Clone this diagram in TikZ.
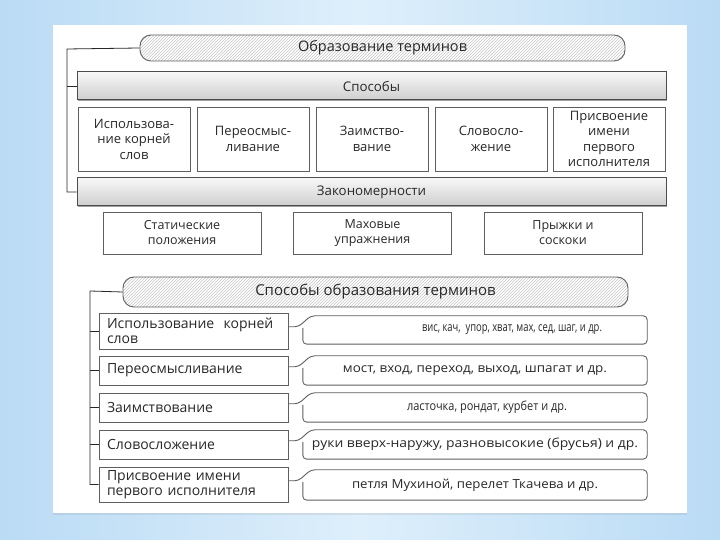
\documentclass[tikz,border=0pt]{standalone}
\usepackage{fontspec}
\usepackage{graphicx}
\setmainfont{Open Sans}
\usetikzlibrary{patterns,shadows,calc}

\definecolor{skyblue}{RGB}{186,219,245}
\definecolor{skylight}{RGB}{222,239,251}
\definecolor{inkgray}{RGB}{40,40,40}
\definecolor{framegray}{RGB}{95,95,95}

% one sample line, stretched to a given width at its own height
\newcommand{\fitline}[2]{\resizebox{#1}{\height}{#2}}

\tikzset{
  headbox/.style={draw=framegray, line width=0.9pt, rounded corners=11pt,
    pattern=north east lines, pattern color=gray!45, text=inkgray, inner sep=0pt},
  barbox/.style={draw=framegray!80!black, line width=1pt, top color=gray!6, bottom color=gray!38,
    minimum width=589pt, minimum height=28pt, inner sep=0pt, text=inkgray,
    font=\fontsize{13.3}{15}\selectfont,
    drop shadow={shadow xshift=1.3pt, shadow yshift=-1.3pt, opacity=.75}},
  waybox/.style={draw=framegray, line width=0.9pt, fill=white, minimum width=112pt,
    minimum height=64pt, inner sep=0pt, align=center, text=inkgray,
    font=\fontsize{13}{15.5}\selectfont,
    drop shadow={shadow xshift=0.8pt, shadow yshift=-0.8pt, opacity=.25}},
  lawbox/.style={waybox, minimum width=158pt, minimum height=42pt,
    font=\fontsize{12.5}{15}\selectfont},
  namebox/.style={draw=framegray, line width=0.9pt, fill=white, minimum width=189pt,
    text width=173pt, inner xsep=8pt, inner ysep=0pt, align=left, text=inkgray,
    font=\fontsize{14}{15.5}\selectfont},
  samplebox/.style={minimum width=344pt, inner sep=0pt, text=inkgray,
    font=\fontsize{12.5}{14}\selectfont},
  callline/.style={draw=framegray, line width=0.9pt, rounded corners=4pt},
  bracket/.style={draw=inkgray, line width=0.8pt},
}

\begin{document}
\begin{tikzpicture}[x=1pt, y=1pt]
  \useasboundingbox (0,0) rectangle (720,540);
  % background of the slide
  \fill[left color=skyblue, right color=skyblue, middle color=skylight] (0,0) rectangle (720,540);
  \fill[white, drop shadow={shadow xshift=0pt, shadow yshift=-2pt, opacity=.15}] (53,27) rectangle (687,515);

  % upper scheme
  \node[headbox, minimum width=485pt, minimum height=26pt, font=\fontsize{14.5}{16}\selectfont] (terms) at (382.5,492) {Образование терминов};
  \node[barbox] (ways) at (371.5,454) {Способы};
  \node[waybox] (w1) at (134,401) {Использова-\\ние корней\\слов};
  \node[waybox] (w2) at (253,401) {Переосмыс-\\ливание};
  \node[waybox] (w3) at (372,401) {Заимство-\\вание};
  \node[waybox] (w4) at (491,401) {Словосло-\\жение};
  \node[waybox] (w5) at (609,401) {Присвоение\\имени\\первого\\исполнителя};
  \node[barbox] (laws) at (371.5,348) {Закономерности};
  \node[lawbox] (s1) at (182,307) {Статические\\положения};
  \node[lawbox] (s2) at (372.5,307) {Маховые\\упражнения};
  \node[lawbox] (s3) at (563,307) {Прыжки и\\соскоки};

  \coordinate (top) at (67,491);
  \draw[bracket] (terms.west) -- (top) |- (laws.west);
  \draw[bracket] (top |- ways.west) -- (ways.west);

  % lower scheme
  \node[headbox, minimum width=505pt, minimum height=30pt, font=\fontsize{15}{17}\selectfont] (sterms) at (375.5,248) {Способы образования терминов};
  \node[namebox, minimum height=36pt] (l1) at (193.5,209) {Использование~~корней\\слов};
  \node[namebox, minimum height=29pt] (l2) at (193.5,169.5) {Переосмысливание};
  \node[namebox, minimum height=29pt] (l3) at (193.5,132.5) {Заимствование};
  \node[namebox, minimum height=29pt] (l4) at (193.5,95.5) {Словосложение};
  \node[namebox, minimum height=35pt] (l5) at (193.5,55.5) {Присвоение имени\\первого исполнителя};

  \node[samplebox, minimum height=28pt] (c1) at (475,210) {\hspace*{74pt}\fitline{180pt}{вис, кач,~~упор, хват, мах, сед, шаг, и др.}};
  \node[samplebox, minimum height=29pt] (c2) at (475,169.5) {\fitline{264pt}{мост, вход, переход, выход, шпагат и др.}};
  \node[samplebox, minimum height=29pt] (c3) at (475,132.5) {\hspace*{24pt}\fitline{160pt}{ласточка, рондат, курбет и др.}};
  \node[samplebox, minimum height=29pt] (c4) at (475,95.5) {\fitline{326pt}{руки вверх-наружу, разновысокие (брусья) и др.}};
  \node[samplebox, minimum height=30pt] (c5) at (475,55) {\fitline{246pt}{петля Мухиной, перелет Ткачева и др.}};

  \coordinate (low) at (90,249);
  \draw[bracket] (sterms.west) -- (low) |- (l5.west);
  \foreach \i in {1,...,4}
    \draw[bracket] (low |- l\i.west) -- (l\i.west);

  % callouts pointing to the names
  \foreach \i in {1,...,5} {
    \coordinate (t\i) at ($(l\i.east |- c\i.north)+(0,-11)$);
    \draw[callline] (t\i) -- ++(10,0) -- ($(c\i.north west)+(8,0)$) -- (c\i.north east)
      -- (c\i.south east) -- (c\i.south west) -- ($(c\i.north west)+(0,-12)$);
  }
\end{tikzpicture}
\end{document}
